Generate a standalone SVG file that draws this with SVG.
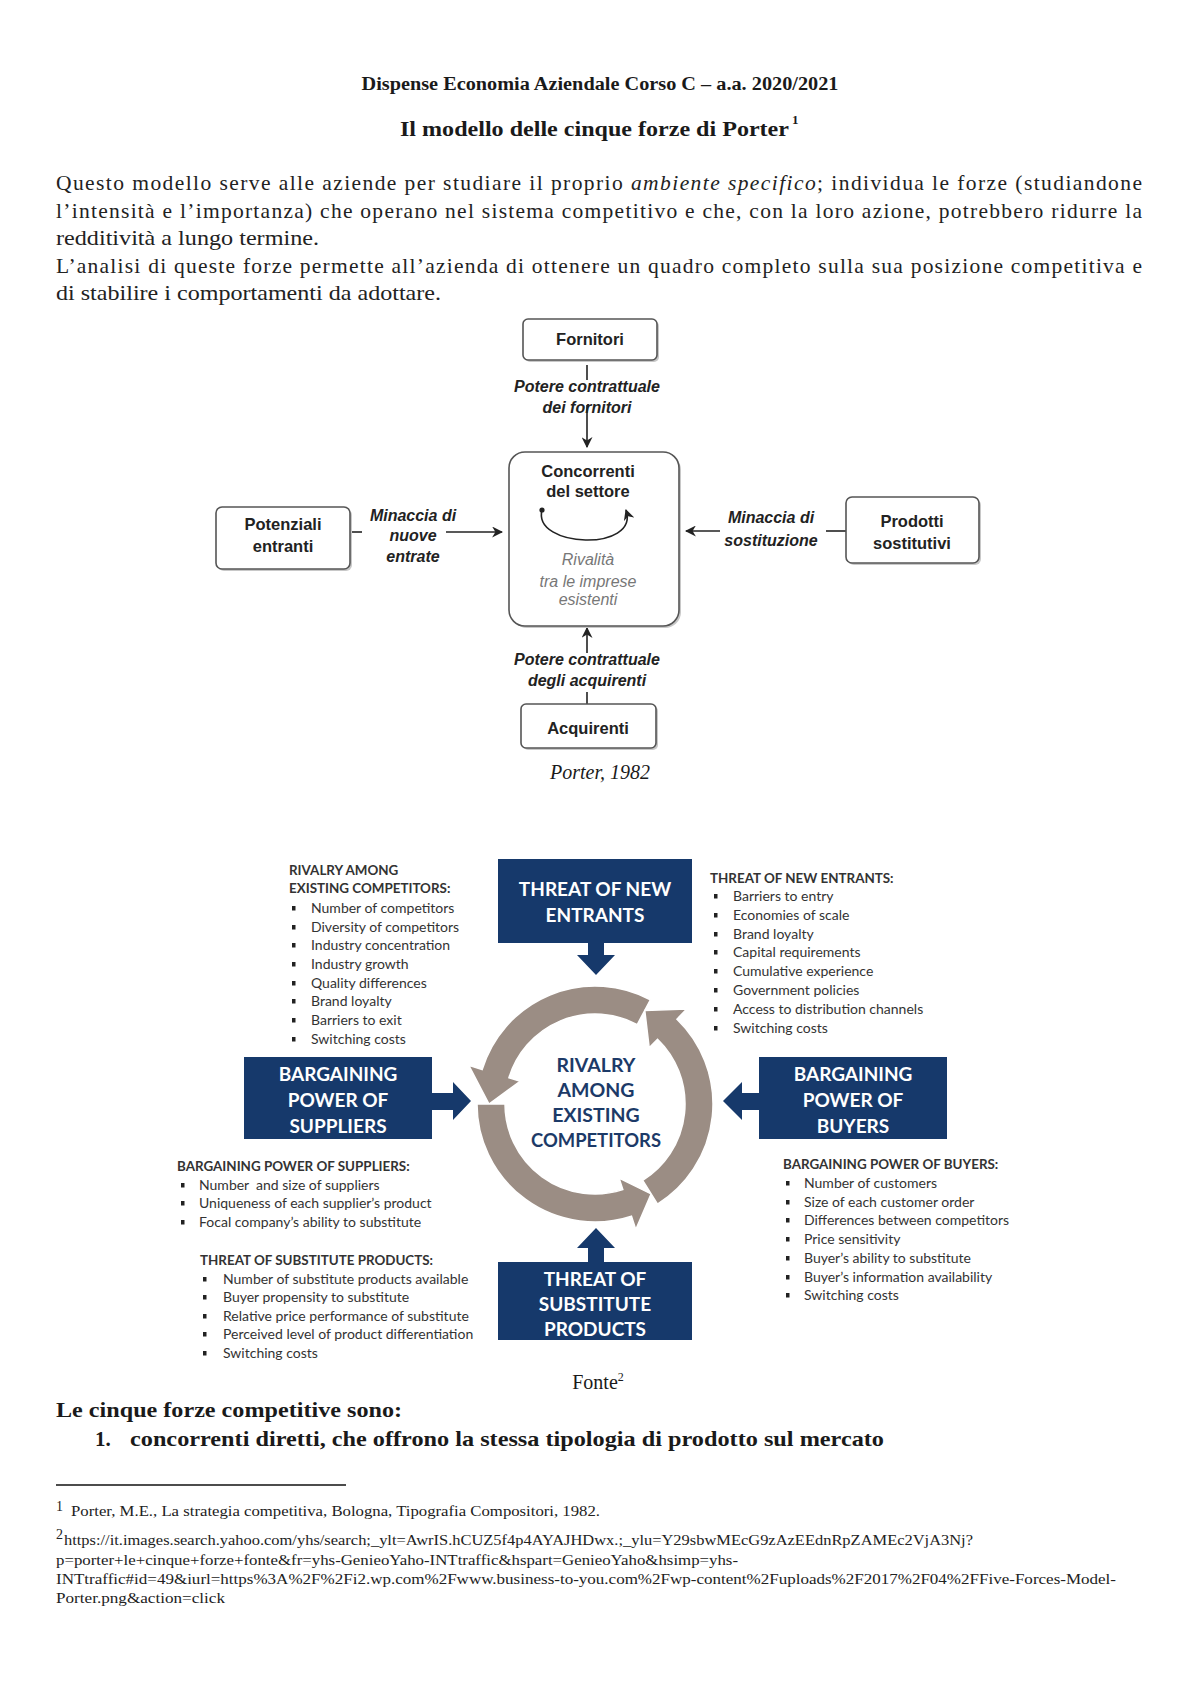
<svg xmlns="http://www.w3.org/2000/svg" width="1200" height="1698" viewBox="0 0 1200 1698">
<style>
.doc{font-family:"Liberation Serif",serif;fill:#1a1a1a}
.para{font-family:"Liberation Serif",serif;font-size:21.5px;fill:#222}
.box{fill:#fff;stroke:#555;stroke-width:1.6}
.shadow{fill:#c8c8c8}
.bl{font-family:"Liberation Sans",Arial,sans-serif;font-weight:bold;font-size:16.5px;fill:#222;text-anchor:middle}
.cl{font-family:"Liberation Sans",Arial,sans-serif;font-weight:bold;font-style:italic;font-size:16px;fill:#222;text-anchor:middle}
.gl{font-family:"Liberation Sans",Arial,sans-serif;font-style:italic;font-size:16px;fill:#777;text-anchor:middle}
.ln{stroke:#222;stroke-width:1.6;fill:none}
.nav{fill:#16396b}
.nt{font-family:Lato,"Open Sans",sans-serif;font-weight:bold;font-size:19px;fill:#fff;text-anchor:middle}
.ct{font-family:Lato,"Open Sans",sans-serif;font-weight:bold;font-size:19.5px;fill:#1c3a68;text-anchor:middle}
.ring{fill:#9b8d84;stroke:#fff;stroke-width:1.5}
.lh{font-family:Lato,"Open Sans",sans-serif;font-weight:bold;font-size:13.4px;fill:#333}
.li{font-family:Lato,"Open Sans",sans-serif;font-size:14px;fill:#333}
.bu{fill:#222}
.fn{font-family:"Liberation Serif",serif;font-size:14px;fill:#222}
</style>
<defs>
<marker id="ah" viewBox="0 0 10 10" refX="9" refY="5" markerWidth="11" markerHeight="11" markerUnits="userSpaceOnUse" orient="auto">
<path d="M0,0 L10,5 L0,10 L3,5 z" fill="#222"/>
</marker>
</defs>

<g id="header">
<text class="doc" x="600" y="90" font-size="18" font-weight="bold" text-anchor="middle" textLength="477" lengthAdjust="spacingAndGlyphs">Dispense Economia Aziendale Corso C – a.a. 2020/2021</text>
<text class="doc" x="400" y="136" font-size="21" font-weight="bold" textLength="389" lengthAdjust="spacingAndGlyphs">Il modello delle cinque forze di Porter</text>
<text class="doc" x="792" y="124" font-size="13" font-weight="bold">1</text>
</g>

<g id="paragraph">
<text class="para" x="56" y="190" textLength="1086" lengthAdjust="spacing">Questo modello serve alle aziende per studiare il proprio <tspan font-style="italic">ambiente specifico</tspan>; individua le forze (studiandone</text>
<text class="para" x="56" y="218" textLength="1086" lengthAdjust="spacing">l’intensità e l’importanza) che operano nel sistema competitivo e che, con la loro azione, potrebbero ridurre la</text>
<text class="para" x="56" y="245" textLength="263" lengthAdjust="spacingAndGlyphs">redditività a lungo termine.</text>
<text class="para" x="56" y="273" textLength="1086" lengthAdjust="spacing">L’analisi di queste forze permette all’azienda di ottenere un quadro completo sulla sua posizione competitiva e</text>
<text class="para" x="56" y="300" textLength="385" lengthAdjust="spacingAndGlyphs">di stabilire i comportamenti da adottare.</text>
</g>

<g id="porter-connectors">
<line class="ln" x1="587" y1="365" x2="587" y2="380"/>
<line class="ln" x1="587" y1="405" x2="587" y2="447" marker-end="url(#ah)"/>
<line class="ln" x1="350" y1="532" x2="362" y2="532"/>
<line class="ln" x1="446" y1="532" x2="502" y2="532" marker-end="url(#ah)"/>
<line class="ln" x1="846" y1="531" x2="826" y2="531"/>
<line class="ln" x1="720" y1="531" x2="686" y2="531" marker-end="url(#ah)"/>
<line class="ln" x1="587" y1="653" x2="587" y2="628" marker-end="url(#ah)"/>
<line class="ln" x1="587" y1="692" x2="587" y2="705"/>
<text class="cl" x="587" y="392">Potere contrattuale</text>
<text class="cl" x="587" y="413">dei fornitori</text>
<text class="cl" x="413" y="521">Minaccia di</text>
<text class="cl" x="413" y="541">nuove</text>
<text class="cl" x="413" y="562">entrate</text>
<text class="cl" x="771" y="523">Minaccia di</text>
<text class="cl" x="771" y="546">sostituzione</text>
<text class="cl" x="587" y="665">Potere contrattuale</text>
<text class="cl" x="587" y="686">degli acquirenti</text>
</g>

<g id="fornitori">
<rect class="shadow" x="525" y="321" width="134" height="41" rx="5"/>
<rect class="box" x="523" y="319" width="134" height="41" rx="5"/>
<text class="bl" x="590" y="345">Fornitori</text>
</g>

<g id="concorrenti">
<rect class="shadow" x="511" y="454" width="170" height="174" rx="16"/>
<rect class="box" x="509" y="452" width="170" height="174" rx="16"/>
<text class="bl" x="588" y="477">Concorrenti</text>
<text class="bl" x="588" y="497">del settore</text>
<circle cx="542" cy="510" r="2.6" fill="#222"/>
<path class="ln" d="M542,510 C532,548 640,552 626,510" stroke-width="1.4" marker-end="url(#ah)"/>
<text class="gl" x="588" y="565">Rivalità</text>
<text class="gl" x="588" y="587">tra le imprese</text>
<text class="gl" x="588" y="605">esistenti</text>
</g>

<g id="potenziali">
<rect class="shadow" x="218" y="509" width="134" height="62" rx="6"/>
<rect class="box" x="216" y="507" width="134" height="62" rx="6"/>
<text class="bl" x="283" y="530">Potenziali</text>
<text class="bl" x="283" y="552">entranti</text>
</g>

<g id="prodotti">
<rect class="shadow" x="848" y="499" width="133" height="66" rx="6"/>
<rect class="box" x="846" y="497" width="133" height="66" rx="6"/>
<text class="bl" x="912" y="527">Prodotti</text>
<text class="bl" x="912" y="549">sostitutivi</text>
</g>

<g id="acquirenti">
<rect class="shadow" x="523" y="706" width="135" height="44" rx="5"/>
<rect class="box" x="521" y="704" width="135" height="44" rx="5"/>
<text class="bl" x="588" y="734">Acquirenti</text>
</g>

<text class="doc" x="600" y="779" font-size="20" font-style="italic" text-anchor="middle">Porter, 1982</text>

<g id="forces-connectors">
<path class="nav" d="M588,943 H604 V955 H615 L596,975 L577,955 H588 Z"/>
<path class="nav" d="M432,1093 H453 V1082 L471,1101 L453,1120 V1110 H432 Z"/>
<path class="nav" d="M759,1093 H742 V1082 L723,1101 L742,1120 V1110 H759 Z"/>
<path class="nav" d="M588,1262 H604 V1248 H615 L596,1228 L577,1248 H588 Z"/>
</g>

<g id="rivalry-ring">
<path class="ring" d="M650.40,999.82 A118,118 0 0 0 482.16,1069.50 L468.77,1065.40 L489,1104 L520.41,1081.19 L508.93,1077.68 A90,90 0 0 1 637.26,1024.54 Z"/>
<path class="ring" d="M477,1104 A118,118 0 0 0 631.46,1216.23 L635.79,1229.55 L651.17,1193.89 L619.10,1178.19 L622.81,1189.60 A90,90 0 0 1 505,1104 Z"/>
<path class="ring" d="M657.53,1204.06 A118,118 0 0 0 676.97,1019.12 L686.70,1009.05 L644.77,1010.41 L649.19,1047.89 L657.52,1039.26 A90,90 0 0 1 642.69,1180.32 Z"/>
<text class="ct" x="596" y="1072">RIVALRY</text>
<text class="ct" x="596" y="1097">AMONG</text>
<text class="ct" x="596" y="1122">EXISTING</text>
<text class="ct" x="596" y="1147" textLength="130" lengthAdjust="spacingAndGlyphs">COMPETITORS</text>
</g>

<g id="threat-new-entrants">
<rect class="nav" x="498" y="859" width="194" height="84"/>
<text class="nt" x="595" y="896">THREAT OF NEW</text>
<text class="nt" x="595" y="922">ENTRANTS</text>
</g>

<g id="power-suppliers">
<rect class="nav" x="244" y="1057" width="188" height="82"/>
<text class="nt" x="338" y="1081">BARGAINING</text>
<text class="nt" x="338" y="1107">POWER OF</text>
<text class="nt" x="338" y="1133">SUPPLIERS</text>
</g>

<g id="power-buyers">
<rect class="nav" x="759" y="1057" width="188" height="82"/>
<text class="nt" x="853" y="1081">BARGAINING</text>
<text class="nt" x="853" y="1107">POWER OF</text>
<text class="nt" x="853" y="1133">BUYERS</text>
</g>

<g id="threat-substitutes">
<rect class="nav" x="498" y="1262" width="194" height="78"/>
<text class="nt" x="595" y="1286">THREAT OF</text>
<text class="nt" x="595" y="1311">SUBSTITUTE</text>
<text class="nt" x="595" y="1336">PRODUCTS</text>
</g>

<g id="list-rivalry">
<text class="lh" x="289" y="875">RIVALRY AMONG</text>
<text class="lh" x="289" y="893">EXISTING COMPETITORS:</text>
<rect class="bu" x="292" y="906" width="3.5" height="4.5"/><text class="li" x="311" y="913">Number of competitors</text>
<rect class="bu" x="292" y="925" width="3.5" height="4.5"/><text class="li" x="311" y="932">Diversity of competitors</text>
<rect class="bu" x="292" y="943" width="3.5" height="4.5"/><text class="li" x="311" y="950">Industry concentration</text>
<rect class="bu" x="292" y="962" width="3.5" height="4.5"/><text class="li" x="311" y="969">Industry growth</text>
<rect class="bu" x="292" y="981" width="3.5" height="4.5"/><text class="li" x="311" y="988">Quality differences</text>
<rect class="bu" x="292" y="999" width="3.5" height="4.5"/><text class="li" x="311" y="1006">Brand loyalty</text>
<rect class="bu" x="292" y="1018" width="3.5" height="4.5"/><text class="li" x="311" y="1025">Barriers to exit</text>
<rect class="bu" x="292" y="1037" width="3.5" height="4.5"/><text class="li" x="311" y="1044">Switching costs</text>
</g>

<g id="list-new-entrants">
<text class="lh" x="710" y="883">THREAT OF NEW ENTRANTS:</text>
<rect class="bu" x="714" y="894" width="3.5" height="4.5"/><text class="li" x="733" y="901">Barriers to entry</text>
<rect class="bu" x="714" y="913" width="3.5" height="4.5"/><text class="li" x="733" y="920">Economies of scale</text>
<rect class="bu" x="714" y="932" width="3.5" height="4.5"/><text class="li" x="733" y="939">Brand loyalty</text>
<rect class="bu" x="714" y="950" width="3.5" height="4.5"/><text class="li" x="733" y="957">Capital requirements</text>
<rect class="bu" x="714" y="969" width="3.5" height="4.5"/><text class="li" x="733" y="976">Cumulative experience</text>
<rect class="bu" x="714" y="988" width="3.5" height="4.5"/><text class="li" x="733" y="995">Government policies</text>
<rect class="bu" x="714" y="1007" width="3.5" height="4.5"/><text class="li" x="733" y="1014">Access to distribution channels</text>
<rect class="bu" x="714" y="1026" width="3.5" height="4.5"/><text class="li" x="733" y="1033">Switching costs</text>
</g>

<g id="list-suppliers">
<text class="lh" x="177" y="1171">BARGAINING POWER OF SUPPLIERS:</text>
<rect class="bu" x="181" y="1183" width="3.5" height="4.5"/><text class="li" x="199" y="1190" xml:space="preserve">Number  and size of suppliers</text>
<rect class="bu" x="181" y="1201" width="3.5" height="4.5"/><text class="li" x="199" y="1208">Uniqueness of each supplier’s product</text>
<rect class="bu" x="181" y="1220" width="3.5" height="4.5"/><text class="li" x="199" y="1227">Focal company’s ability to substitute</text>
</g>

<g id="list-substitutes">
<text class="lh" x="200" y="1265">THREAT OF SUBSTITUTE PRODUCTS:</text>
<rect class="bu" x="203" y="1277" width="3.5" height="4.5"/><text class="li" x="223" y="1284">Number of substitute products available</text>
<rect class="bu" x="203" y="1295" width="3.5" height="4.5"/><text class="li" x="223" y="1302">Buyer propensity to substitute</text>
<rect class="bu" x="203" y="1314" width="3.5" height="4.5"/><text class="li" x="223" y="1321">Relative price performance of substitute</text>
<rect class="bu" x="203" y="1332" width="3.5" height="4.5"/><text class="li" x="223" y="1339">Perceived level of product differentiation</text>
<rect class="bu" x="203" y="1351" width="3.5" height="4.5"/><text class="li" x="223" y="1358">Switching costs</text>
</g>

<g id="list-buyers">
<text class="lh" x="783" y="1169">BARGAINING POWER OF BUYERS:</text>
<rect class="bu" x="786" y="1181" width="3.5" height="4.5"/><text class="li" x="804" y="1188">Number of customers</text>
<rect class="bu" x="786" y="1200" width="3.5" height="4.5"/><text class="li" x="804" y="1207">Size of each customer order</text>
<rect class="bu" x="786" y="1218" width="3.5" height="4.5"/><text class="li" x="804" y="1225">Differences between competitors</text>
<rect class="bu" x="786" y="1237" width="3.5" height="4.5"/><text class="li" x="804" y="1244">Price sensitivity</text>
<rect class="bu" x="786" y="1256" width="3.5" height="4.5"/><text class="li" x="804" y="1263">Buyer’s ability to substitute</text>
<rect class="bu" x="786" y="1275" width="3.5" height="4.5"/><text class="li" x="804" y="1282">Buyer’s information availability</text>
<rect class="bu" x="786" y="1293" width="3.5" height="4.5"/><text class="li" x="804" y="1300">Switching costs</text>
</g>

<g id="footer-text">
<text class="doc" x="598" y="1389" font-size="20" text-anchor="middle">Fonte<tspan font-size="12" dy="-8">2</tspan></text>
<text class="doc" x="56" y="1417" font-size="21" font-weight="bold" textLength="346" lengthAdjust="spacingAndGlyphs">Le cinque forze competitive sono:</text>
<text class="doc" x="95" y="1446" font-size="21" font-weight="bold">1.</text>
<text class="doc" x="130" y="1446" font-size="21" font-weight="bold" textLength="754" lengthAdjust="spacingAndGlyphs">concorrenti diretti, che offrono la stessa tipologia di prodotto sul mercato</text>
<line x1="56" y1="1485" x2="346" y2="1485" stroke="#111" stroke-width="1.6"/>
<text class="fn" x="56" y="1511" font-size="13">1</text>
<text class="fn" x="71" y="1516" textLength="529" lengthAdjust="spacingAndGlyphs">Porter, M.E., La strategia competitiva, Bologna, Tipografia Compositori, 1982.</text>
<text class="fn" x="56" y="1539" font-size="11">2</text>
<text class="fn" x="64" y="1545" textLength="909" lengthAdjust="spacingAndGlyphs">https://it.images.search.yahoo.com/yhs/search;_ylt=AwrIS.hCUZ5f4p4AYAJHDwx.;_ylu=Y29sbwMEcG9zAzEEdnRpZAMEc2VjA3Nj?</text>
<text class="fn" x="56" y="1565" textLength="682" lengthAdjust="spacingAndGlyphs">p=porter+le+cinque+forze+fonte&amp;fr=yhs-GenieoYaho-INTtraffic&amp;hspart=GenieoYaho&amp;hsimp=yhs-</text>
<text class="fn" x="56" y="1584" textLength="1060" lengthAdjust="spacingAndGlyphs">INTtraffic#id=49&amp;iurl=https%3A%2F%2Fi2.wp.com%2Fwww.business-to-you.com%2Fwp-content%2Fuploads%2F2017%2F04%2FFive-Forces-Model-</text>
<text class="fn" x="56" y="1603" textLength="169" lengthAdjust="spacingAndGlyphs">Porter.png&amp;action=click</text>
</g>
</svg>
